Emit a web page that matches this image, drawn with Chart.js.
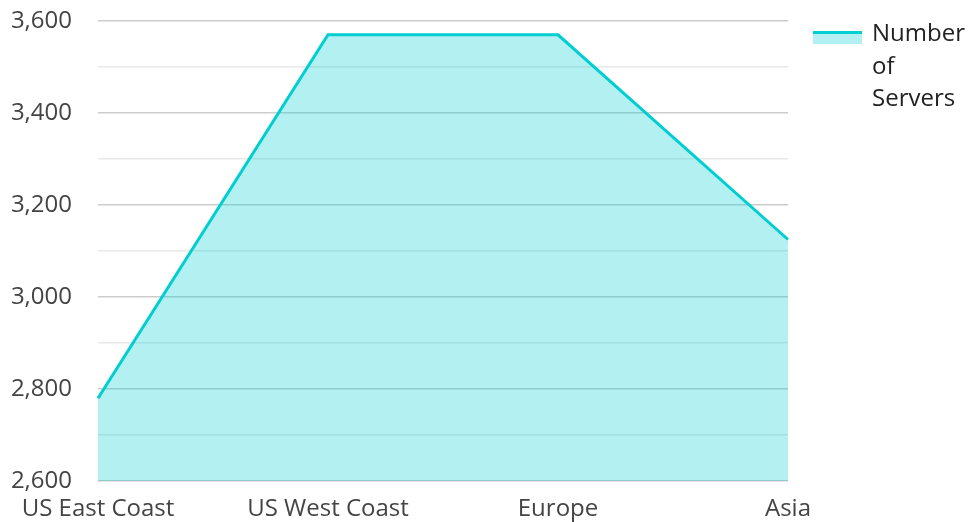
<!DOCTYPE html>
<html>
<head>
<meta charset="utf-8">
<script src="https://cdn.jsdelivr.net/npm/chart.js@4/dist/chart.umd.min.js"></script>
<style>
  html, body { margin: 0; padding: 0; background: #fff; }
  #wrap { position: relative; width: 970px; height: 522px; }
</style>
</head>
<body>
<div id="wrap"><canvas id="serversChart"></canvas></div>
<script>
  // data
  const regions = ["US East Coast", "US West Coast", "Europe", "Asia"];
  const servers = [2780, 3570, 3570, 3125];
  const legendLines = ["Number", "of", "Servers"];
  const yMin = 2600;
  const yMax = 3600;
  const yStep = 100; // labels every 200, faint lines in between

  const LINE = "#00CED1";
  const FILL = "rgba(0, 206, 209, 0.3)";
  const FONT = "'Open Sans', sans-serif";

  // legend drawn by hand: line on top of a filled swatch, label wrapped in 3 lines
  const sideLegend = {
    id: "sideLegend",
    afterDraw(chart) {
      const ctx = chart.ctx;
      const x = chart.chartArea.right + 25;
      ctx.save();
      ctx.fillStyle = FILL;
      ctx.fillRect(x, 33, 49, 11);
      ctx.fillStyle = LINE;
      ctx.fillRect(x, 31, 49, 3);
      ctx.fillStyle = "#222";
      ctx.font = "24px " + FONT;
      ctx.textBaseline = "alphabetic";
      legendLines.forEach((t, i) => ctx.fillText(t, x + 59, 41 + i * 32.5));
      ctx.restore();
    },
  };

  new Chart(document.getElementById("serversChart"), {
    type: "line",
    data: {
      labels: regions,
      datasets: [
        {
          label: legendLines.join(" "),
          data: servers,
          borderColor: LINE,
          backgroundColor: FILL,
          borderWidth: 3,
          fill: "start",
          tension: 0,
          pointRadius: 0,
        },
      ],
    },
    options: {
      responsive: true,
      maintainAspectRatio: false,
      animation: false,
      layout: { padding: { top: 21, right: 182, left: 0, bottom: 0 } },
      plugins: { legend: { display: false }, tooltip: { enabled: false } },
      scales: {
        x: {
          offset: false,
          grid: { display: false },
          border: { display: false },
          afterFit: (s) => { s.height = 41; },
          ticks: {
            color: "#444",
            font: { family: FONT, size: 24 },
            padding: 6,
            maxRotation: 0,
            autoSkip: false,
          },
        },
        y: {
          min: yMin,
          max: yMax,
          border: { display: false },
          afterFit: (s) => {
            s.width = 98;
            s.paddingTop = 0;
            s.paddingBottom = 0;
          },
          grid: {
            drawTicks: false,
            lineWidth: 1.5,
            color: (c) => (c.tick && c.tick.value % 200 === 0 ? "#cccccc" : "#e8e8e8"),
          },
          ticks: {
            stepSize: yStep,
            padding: 26,
            color: "#444",
            font: { family: FONT, size: 24 },
            callback: (v) => (v % 200 === 0 ? v.toLocaleString("en-US") : ""),
          },
        },
      },
    },
    plugins: [sideLegend],
  });
</script>
</body>
</html>
